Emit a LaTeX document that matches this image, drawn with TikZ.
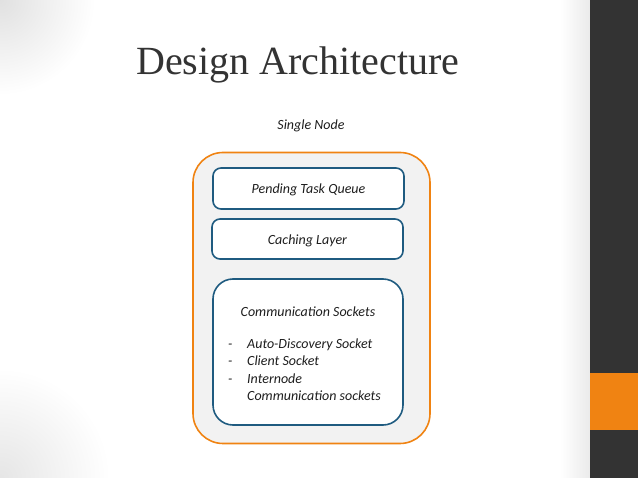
\documentclass[tikz,border=0pt]{standalone}
\usepackage{fontspec}
\setmainfont{Carlito}
\newfontfamily\titlefont{Liberation Serif}
\usetikzlibrary{positioning}
\definecolor{barc}{HTML}{333333}
\definecolor{orangec}{HTML}{F08312}
\definecolor{bluec}{HTML}{1F5B80}
\definecolor{fillg}{HTML}{F2F2F2}
\definecolor{txt}{HTML}{1E1E1E}
\tikzset{
  outerbox/.style={draw=orangec, line width=1.6pt, fill=fillg, rounded corners=30pt, minimum width=237pt, minimum height=291pt, inner sep=0pt},
  layerbox/.style={draw=bluec, line width=1.6pt, fill=white, rounded corners=8pt, minimum width=191pt, inner sep=0pt},
  commbox/.style={draw=bluec, line width=1.6pt, fill=white, rounded corners=20pt, minimum width=190pt, minimum height=146pt, inner sep=0pt},
  lbl/.style={font=\fontsize{14}{17}\selectfont\itshape, text=txt, inner sep=0pt},
}
\begin{document}
\begin{tikzpicture}[x=1pt,y=-1pt]
\useasboundingbox (0,0) rectangle (638,478);
% background
\fill[white] (0,0) rectangle (638,478);
\shade[inner color=black!12, outer color=white] (0,0) circle (95pt);
\shade[inner color=black!10, outer color=white] (0,478) circle (110pt);
\fill[white] (110,300) rectangle (200,478);
\shade[left color=white, right color=black!8] (560,0) rectangle (590,478);
% right bar
\fill[barc] (590,0) rectangle (638,478);
\fill[orangec] (590,373) rectangle (638,430);
% title
\node[anchor=base west, inner sep=0pt, text=barc, font=\titlefont\fontsize{40}{44}\selectfont] (title) at (136,75) {Design Architecture};
\node[lbl] (single) at (311,125.5) {Single Node};
% boxes
\node[outerbox] (outer) at (311.5,298) {};
\node[layerbox, minimum height=41pt] (pending) at (308.5,188.5) {};
\node[lbl] at ([yshift=-1.5pt]pending.center) {Pending Task Queue};
\node[layerbox, minimum height=40pt] (caching) at (307.5,239) {};
\node[lbl] at ([yshift=-1.5pt]caching.center) {Caching Layer};
\node[commbox] (comm) at (308,352) {};
\node[lbl] (commt) at (308,311.5) {Communication Sockets};
\node[lbl, anchor=base west] (d1) at (228,349) {-};
\node[lbl, anchor=base west] (d2) at (228,366) {-};
\node[lbl, anchor=base west] (d3) at (228,383.5) {-};
\node[lbl, anchor=base west] (i1) at (247,349) {Auto-Discovery Socket};
\node[lbl, anchor=base west] (i2) at (247,366) {Client Socket};
\node[lbl, anchor=base west] (i3) at (247,383.5) {Internode};
\node[lbl, anchor=base west] (i4) at (247,401) {Communication sockets};
\end{tikzpicture}
\end{document}
